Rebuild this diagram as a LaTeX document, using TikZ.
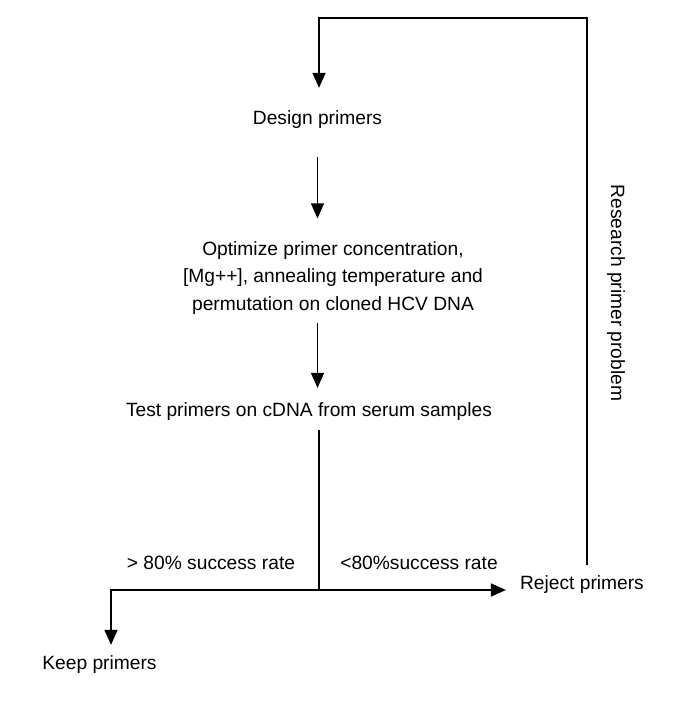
\documentclass[tikz,border=0pt]{standalone}
\usepackage{fontspec}
\setmainfont{Liberation Sans}
\usetikzlibrary{arrows.meta,positioning}

\begin{document}
\begin{tikzpicture}[x=1pt,y=-1pt,
  every node/.style={font=\fontsize{19.2}{27.5}\selectfont,inner sep=0pt},
  stage/.style={align=center},
  flow/.style={-{Triangle[width=13pt,length=15pt]},line width=1.5pt},
  link/.style={line width=1.5pt}
]
\useasboundingbox (0,0) rectangle (685,713);
\node[stage] (design) at (317.5,120) {Design primers};
\node[stage] (optim) at (333,278) {Optimize primer concentration,\\{[Mg++]}, annealing temperature and\\permutation on cloned HCV DNA};
\node[stage] (test) at (309,412) {Test primers on cDNA from serum samples};
\node[stage] (keep) at (99.5,665) {Keep primers};
\node[stage] (reject) at (582,585) {Reject primers};
\node[rotate=-90] (research) at (616,293) {Research primer problem};
\node (hi) at (211,563) {> 80\% success rate};
\node (lo) at (419,563) {<80\%success rate};

\coordinate (split) at (319,590);
\coordinate (fork) at (111,590);
\coordinate (tl) at (319,18);
\coordinate (tr) at (587,18);

\draw[flow,shorten <=28pt,shorten >=23pt] (design.south) -- (design.south |- optim.north);
\draw[flow,shorten <=8pt,shorten >=15pt] (design.south |- optim.south) -- (design.south |- test.north);
\draw[link,shorten <=9pt] (split |- test.south) -- (split);
\draw[flow,shorten >=11pt] (split) -- (fork) -- (fork |- keep.north);
\draw[flow,shorten >=14pt] (split) -- (split -| reject.west);
\draw[flow,shorten <=11pt,shorten >=23pt] (tr |- reject.north) -- (tr) -- (tl) -- (tl |- design.north);
\end{tikzpicture}
\end{document}
